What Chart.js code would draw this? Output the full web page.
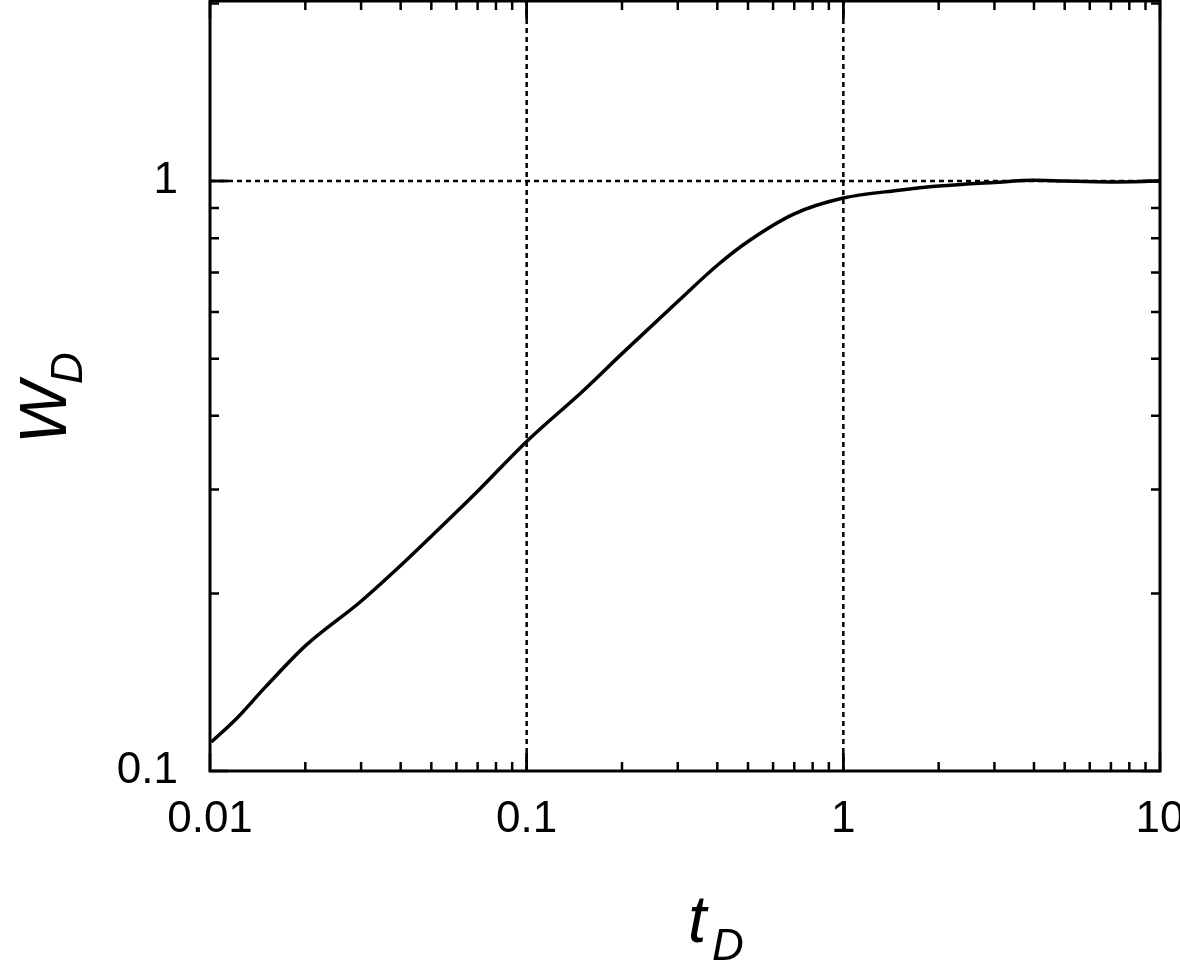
<!DOCTYPE html>
<html lang="en">
<head>
  <meta charset="UTF-8" />
  <title>W_D vs t_D</title>
  <script src="https://cdn.jsdelivr.net/npm/chart.js"></script>
  <style>
    body { margin: 0; background: #fff; }
    #wrap { width: 1180px; height: 969px; }
  </style>
</head>
<body>
  <div id="wrap"><canvas id="wdChart" width="1180" height="969"></canvas></div>
  <script>
    const tD = [0.0101, 0.012, 0.015, 0.02, 0.03, 0.04, 0.05, 0.07, 0.1, 0.15, 0.2, 0.3, 0.4, 0.5, 0.7, 1, 1.5, 2, 3, 4, 5, 7, 10];
    const wD = [0.112, 0.122, 0.139, 0.163, 0.194, 0.223, 0.25, 0.298, 0.362, 0.44, 0.51, 0.625, 0.72, 0.79, 0.88, 0.936, 0.965, 0.981, 0.995, 1.003, 1.0, 0.997, 1.0];
    const xTicks = [0.01, 0.1, 1, 10];
    const yTicks = [0.1, 1];
    const xGuides = [0.1, 1];
    const yGuides = [1];

    const FONT = '"Liberation Sans", Arial, sans-serif';

    // frame, inward ticks, dotted guides, tick labels and subscripted axis titles
    const decor = {
      id: 'decor',
      afterDatasetsDraw(chart) {
        const { ctx, chartArea: a, scales: { x, y } } = chart;
        ctx.save();
        ctx.strokeStyle = '#000';
        ctx.lineWidth = 2.5;
        ctx.setLineDash([5, 4]);
        xGuides.forEach(v => {
          const px = x.getPixelForValue(v);
          ctx.beginPath(); ctx.moveTo(px, a.top); ctx.lineTo(px, a.bottom); ctx.stroke();
        });
        yGuides.forEach(v => {
          const py = y.getPixelForValue(v);
          ctx.beginPath(); ctx.moveTo(a.left, py); ctx.lineTo(a.right, py); ctx.stroke();
        });
        ctx.setLineDash([]);
        ctx.lineWidth = 3;
        ctx.strokeRect(a.left, a.top, a.right - a.left, a.bottom - a.top);
        ctx.lineWidth = 2.5;
        for (let d = 0.01; d < 10; d *= 10) {
          for (let m = 1; m <= 10; m++) {
            const px = x.getPixelForValue(d * m);
            const len = (m === 1 || m === 10) ? 18 : 9;
            ctx.beginPath();
            ctx.moveTo(px, a.bottom); ctx.lineTo(px, a.bottom - len);
            ctx.moveTo(px, a.top); ctx.lineTo(px, a.top + len);
            ctx.stroke();
          }
        }
        for (let d = 0.1; d < 3; d *= 10) {
          for (let m = 1; m <= 10; m++) {
            const v = d * m;
            if (v > y.max) break;
            const py = y.getPixelForValue(v);
            const len = (m === 1 || m === 10) ? 18 : 9;
            ctx.beginPath();
            ctx.moveTo(a.left, py); ctx.lineTo(a.left + len, py);
            ctx.moveTo(a.right, py); ctx.lineTo(a.right - len, py);
            ctx.stroke();
          }
        }
        ctx.fillStyle = '#000';
        ctx.font = '44px ' + FONT;
        ctx.textAlign = 'center';
        ctx.textBaseline = 'alphabetic';
        xTicks.forEach(v => ctx.fillText(String(v), x.getPixelForValue(v), 832));
        ctx.textAlign = 'right';
        ctx.textBaseline = 'middle';
        yTicks.forEach(v => ctx.fillText(String(v), 178, y.getPixelForValue(v)));
        ctx.textBaseline = 'alphabetic';
        ctx.textAlign = 'left';
        // x title
        ctx.font = 'italic 66px ' + FONT;
        ctx.fillText('t', 688, 942);
        ctx.font = 'italic 44px ' + FONT;
        ctx.fillText('D', 712, 960);
        // y title
        ctx.translate(66, 392);
        ctx.rotate(-Math.PI / 2);
        ctx.font = 'italic 66px ' + FONT;
        ctx.fillText('W', -52, 0);
        ctx.font = 'italic 44px ' + FONT;
        ctx.fillText('D', 8, 16);
        ctx.restore();
      }
    };

    new Chart(document.getElementById('wdChart'), {
      type: 'line',
      data: {
        labels: tD,
        datasets: [{
          data: tD.map((t, i) => ({ x: t, y: wD[i] })),
          borderColor: '#000',
          borderWidth: 3.5,
          pointRadius: 0,
          cubicInterpolationMode: 'monotone',
          fill: false
        }]
      },
      options: {
        responsive: false,
        animation: false,
        layout: { padding: { top: 1, right: 20 } },
        plugins: { legend: { display: false }, tooltip: { enabled: false } },
        scales: {
          x: {
            type: 'logarithmic', min: 0.01, max: 10,
            grid: { display: false }, border: { display: false },
            ticks: { display: false },
            afterFit: s => { s.height = 198; }
          },
          y: {
            type: 'logarithmic', min: 0.1, max: 2.02,
            grid: { display: false }, border: { display: false },
            ticks: { display: false },
            afterFit: s => { s.width = 210; }
          }
        }
      },
      plugins: [decor]
    });
  </script>
</body>
</html>
